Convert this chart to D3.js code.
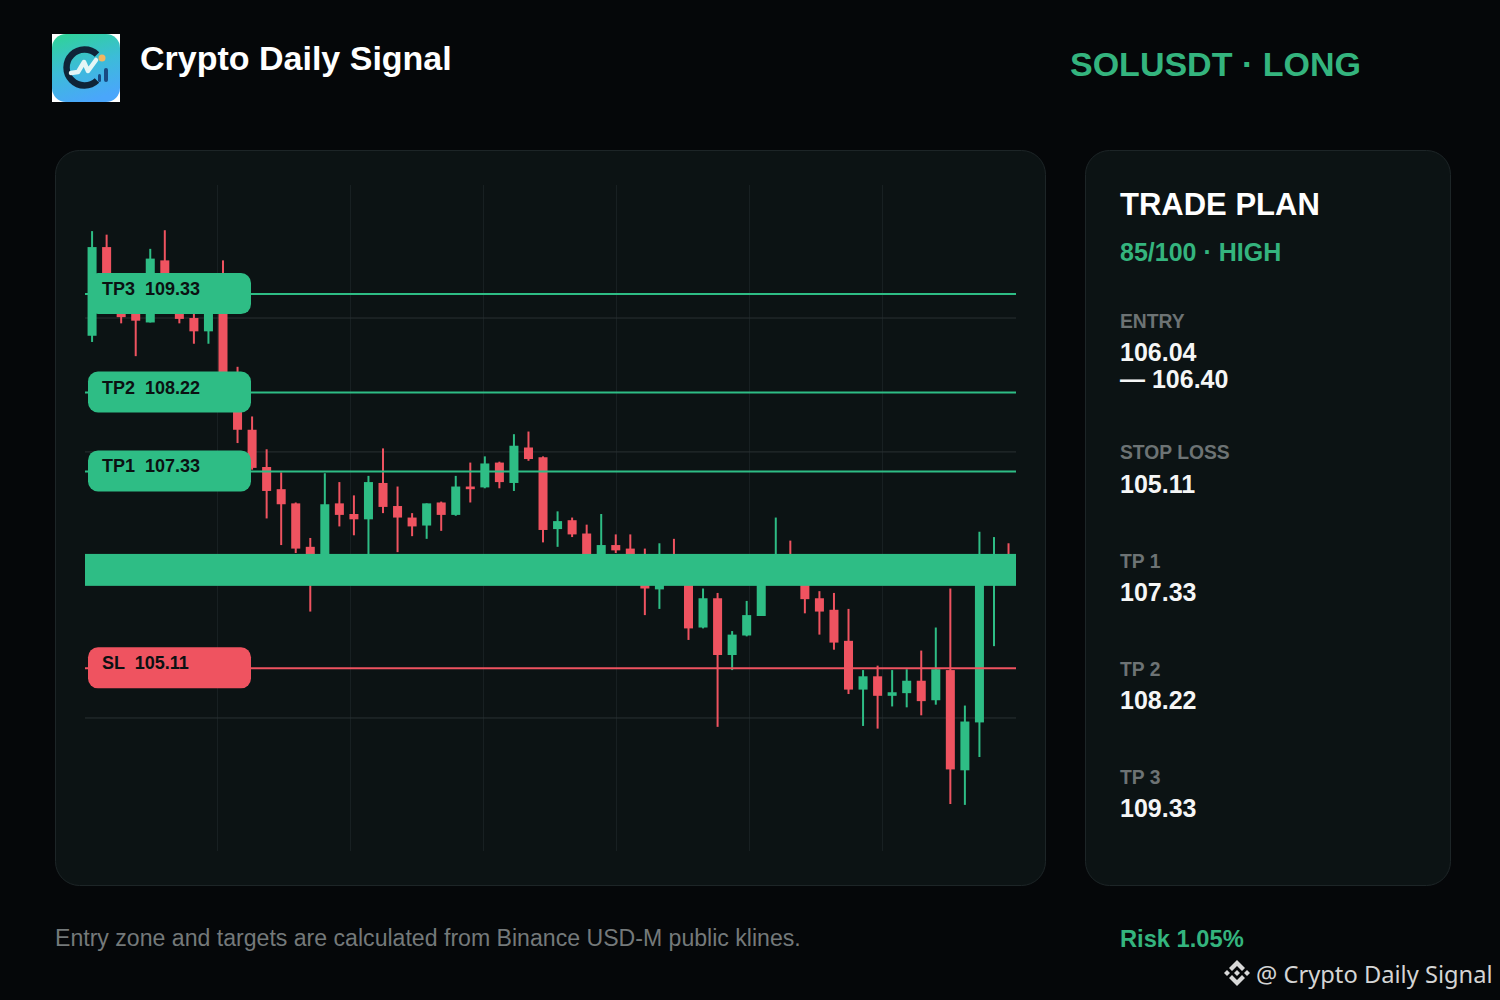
<!DOCTYPE html>
<html>
<head>
<meta charset="utf-8">
<title>Crypto Daily Signal</title>
<style>
html, body { margin: 0; padding: 0; background: #050709; }
svg { display: block; }
text { font-family: "Liberation Sans", Arial, sans-serif; }
</style>
</head>
<body>
<div id="chart"></div>
<script src="https://d3js.org/d3.v7.min.js"></script>
<script>
var opens = [108.86,109.86,109.27,109.13,109.01,109.71,109.27,109.06,108.91,109.32,108.19,107.80,107.38,107.13,106.97,106.48,
    106.27,106.97,106.85,106.79,107.20,106.94,106.81,106.72,106.98,106.84,107.16,107.15,107.43,107.20,107.60,107.49,
    106.68,106.78,106.63,106.33,106.50,106.46,106.36,106.00,106.22,106.10,105.57,105.90,105.26,105.48,105.70,106.15,
    106.30,106.15,105.90,105.77,105.42,104.87,105.02,104.80,104.83,104.97,104.75,105.09,103.96,104.50,106.10,106.35];
var highs = [110.04,110.00,109.33,109.30,109.84,110.05,109.33,109.13,109.32,109.71,108.51,107.95,107.58,107.32,106.98,106.58,
    107.31,107.21,107.06,107.28,107.59,107.16,106.86,106.97,106.99,107.28,107.43,107.50,107.44,107.75,107.78,107.50,
    106.88,106.81,106.73,106.85,106.62,106.62,106.46,106.52,106.57,106.15,106.01,105.96,105.53,105.87,106.30,106.81,
    106.55,106.25,105.98,105.96,105.78,105.09,105.14,105.09,105.10,105.31,105.57,106.01,104.69,106.65,106.59,106.52];
var lows = [108.79,109.21,109.00,108.63,109.01,109.27,109.00,108.77,108.77,108.14,107.65,107.35,106.80,106.50,106.41,105.75,
    106.20,106.71,106.61,106.35,106.86,106.42,106.60,106.57,106.66,106.83,106.98,107.14,107.14,107.11,107.45,106.53,
    106.48,106.59,106.30,106.30,106.41,106.30,105.71,105.78,106.05,105.43,105.56,104.45,105.09,105.47,105.70,106.10,
    106.10,105.73,105.49,105.32,104.82,104.46,104.43,104.68,104.67,104.58,104.70,103.58,103.57,104.11,105.36,106.15];
var closes = [109.86,109.38,109.07,109.03,109.73,109.38,109.05,108.91,109.27,108.22,107.80,107.37,107.11,106.96,106.46,106.33,
    106.96,106.84,106.79,107.21,106.93,106.81,106.71,106.97,106.84,107.16,107.13,107.42,107.21,107.62,107.47,106.67,
    106.77,106.62,106.35,106.50,106.44,106.36,106.01,106.22,106.10,105.56,105.90,105.26,105.49,105.71,106.20,106.30,
    106.15,105.89,105.75,105.40,104.87,105.02,104.80,104.84,104.97,104.74,105.10,103.97,104.51,106.27,106.25,106.20];

var entryZone = [106.04, 106.40];
var levelNames = ["TP3", "TP2", "TP1", "SL"];
var levelPrices = [109.33, 108.22, 107.33, 105.11];
var levelKinds = ["up", "up", "up", "down"];
var gridPrices = [109.06, 107.55, 106.05, 104.55];
var gridColumns = [1, 2, 3, 4, 5, 6];

var planLabels = ["ENTRY", "STOP LOSS", "TP 1", "TP 2", "TP 3"];
var planValues = [["106.04", "\u2014 106.40"], ["105.11"], ["107.33"], ["108.22"], ["109.33"]];
var planLabelY = [328, 459, 567.5, 675.5, 783.5];
var planValueY = [361, 493, 601, 709, 817];

var GREEN = "#2ebd85", RED = "#ef5360", GREENTXT = "#34b47e";
var plot = { left: 85, right: 1016, top: 185, bottom: 851 };

var svg = d3.select("#chart").append("svg")
    .attr("width", 1500)
    .attr("height", 1000);

svg.append("rect").attr("width", 1500).attr("height", 1000).attr("fill", "#050709");

// panels
function panel(x, w) {
    svg.append("rect")
        .attr("x", x + 0.5).attr("y", 150.5)
        .attr("width", w).attr("height", 735)
        .attr("rx", 24)
        .attr("fill", "#0c1314")
        .attr("stroke", "#1d2527")
        .attr("stroke-width", 1);
}
panel(55, 990);
panel(1085, 365);

// scales
var xscale = d3.scaleBand()
    .domain(d3.range(opens.length))
    .range([plot.left, plot.right]);
var yscale = d3.scaleLinear()
    .domain([103.05, 110.56])
    .range([plot.bottom, plot.top]);
var xcol = d3.scaleLinear()
    .domain([0, 7])
    .range([plot.left, plot.right]);

// grid
var ggrid = svg.append("g").attr("class", "grid");
ggrid.selectAll("line.v").data(gridColumns).enter().append("line")
    .attr("class", "v")
    .attr("x1", function(d) { return xcol(d) - 0.5; })
    .attr("x2", function(d) { return xcol(d) - 0.5; })
    .attr("y1", plot.top).attr("y2", plot.bottom)
    .attr("stroke", "#182022").attr("stroke-width", 1);
ggrid.selectAll("line.h").data(gridPrices).enter().append("line")
    .attr("class", "h")
    .attr("x1", plot.left).attr("x2", plot.right)
    .attr("y1", function(d) { return yscale(d); })
    .attr("y2", function(d) { return yscale(d); })
    .attr("stroke", "#2a3133").attr("stroke-width", 1);

// candles
var gc = svg.append("g").attr("class", "candles");
var bw = xscale.bandwidth();
d3.range(opens.length).forEach(function(i) {
    var up = closes[i] >= opens[i];
    var col = up ? GREEN : RED;
    var cx = xscale(i) + bw / 2 - 0.2;
    gc.append("line")
        .attr("x1", cx).attr("x2", cx)
        .attr("y1", yscale(highs[i])).attr("y2", yscale(lows[i]))
        .attr("stroke", col).attr("stroke-width", 2);
    gc.append("rect")
        .attr("x", cx - bw * 0.31)
        .attr("width", bw * 0.62)
        .attr("y", yscale(Math.max(opens[i], closes[i])))
        .attr("height", Math.max(1, Math.abs(yscale(opens[i]) - yscale(closes[i]))))
        .attr("fill", col);
});

// entry band
svg.append("rect")
    .attr("x", plot.left).attr("width", plot.right - plot.left)
    .attr("y", yscale(entryZone[1]))
    .attr("height", yscale(entryZone[0]) - yscale(entryZone[1]))
    .attr("fill", GREEN);

// levels with their tags
var glev = svg.append("g").attr("class", "levels");
levelPrices.forEach(function(p, i) {
    var y = yscale(p);
    var col = levelKinds[i] == "up" ? GREEN : RED;
    glev.append("line")
        .attr("x1", plot.left).attr("x2", plot.right)
        .attr("y1", y).attr("y2", y)
        .attr("stroke", col).attr("stroke-width", 2);
    glev.append("rect")
        .attr("x", 88).attr("y", y - 21)
        .attr("width", 163).attr("height", 41)
        .attr("rx", 10)
        .attr("fill", col);
    glev.append("text")
        .attr("x", 102).attr("y", y + 1)
        .attr("font-size", 18).attr("font-weight", "bold")
        .attr("fill", "#0b1112")
        .style("white-space", "pre")
        .text(levelNames[i] + "  " + p.toFixed(2));
});

// header
var logo = svg.append("g").attr("class", "logo");
var defs = svg.append("defs");
var grad = defs.append("linearGradient").attr("id", "logoGrad")
    .attr("x1", 0.2).attr("y1", 0).attr("x2", 0.5).attr("y2", 1);
grad.append("stop").attr("offset", "0%").attr("stop-color", "#30d29a");
grad.append("stop").attr("offset", "50%").attr("stop-color", "#3cbcd8");
grad.append("stop").attr("offset", "100%").attr("stop-color", "#4aa6fb");
logo.append("rect").attr("x", 52).attr("y", 34).attr("width", 68).attr("height", 68).attr("fill", "#ffffff");
logo.append("rect").attr("x", 52).attr("y", 34).attr("width", 68).attr("height", 68).attr("rx", 14).attr("fill", "url(#logoGrad)");
logo.append("path")
    .attr("d", "M97 54.5 A18 18 0 1 0 97 80.5")
    .attr("fill", "none").attr("stroke", "#0f2438").attr("stroke-width", 6.5);
logo.append("path").attr("d", "M71 73 L78 72 L84 62 L88 71 L96 60")
    .attr("fill", "none").attr("stroke", "#e4f6f6").attr("stroke-width", 4.5).attr("stroke-linejoin", "round").attr("stroke-linecap", "round");
logo.append("circle").attr("cx", 102).attr("cy", 58).attr("r", 3.5).attr("fill", "#f2b661");
logo.append("rect").attr("x", 104).attr("y", 68).attr("width", 4).attr("height", 14).attr("rx", 2).attr("fill", "#184a82");
logo.append("rect").attr("x", 98).attr("y", 74).attr("width", 3).attr("height", 8).attr("rx", 1.5).attr("fill", "#184a82");

svg.append("text").attr("x", 140).attr("y", 70)
    .attr("font-size", 34).attr("font-weight", "bold").attr("fill", "#ffffff")
    .text("Crypto Daily Signal");
svg.append("text").attr("x", 1070).attr("y", 76)
    .attr("font-size", 34).attr("font-weight", "bold").attr("fill", GREENTXT)
    .text("SOLUSDT \u00b7 LONG");

// trade plan
svg.append("text").attr("x", 1120).attr("y", 215)
    .attr("font-size", 31).attr("font-weight", "bold").attr("fill", "#ffffff")
    .text("TRADE PLAN");
svg.append("text").attr("x", 1120).attr("y", 261)
    .attr("font-size", 25).attr("font-weight", "bold").attr("fill", GREENTXT)
    .text("85/100 \u00b7 HIGH");
planLabels.forEach(function(lbl, i) {
    svg.append("text").attr("x", 1120).attr("y", planLabelY[i])
        .attr("font-size", 19.3).attr("font-weight", "bold").attr("fill", "#6d7374")
        .text(lbl);
    planValues[i].forEach(function(v, j) {
        svg.append("text").attr("x", 1120).attr("y", planValueY[i] + j * 27)
            .attr("font-size", 25).attr("font-weight", "bold").attr("fill", "#f5f6f6")
            .text(v);
    });
});

// footer
svg.append("text").attr("x", 55).attr("y", 946)
    .attr("font-size", 23.1).attr("fill", "#74797a")
    .text("Entry zone and targets are calculated from Binance USD-M public klines.");
svg.append("text").attr("x", 1120).attr("y", 947)
    .attr("font-size", 23.7).attr("font-weight", "bold").attr("fill", GREENTXT)
    .text("Risk 1.05%");

// watermark
var wm = svg.append("g").attr("transform", "translate(1237,973)").attr("fill", "#d8d8d8");
wm.append("path").attr("d", "M0 -13 L8 -5 L5 -2 L0 -7 L-5 -2 L-8 -5 Z");
wm.append("path").attr("d", "M0 13 L8 5 L5 2 L0 7 L-5 2 L-8 5 Z");
wm.append("path").attr("d", "M0 -3 L3 0 L0 3 L-3 0 Z");
wm.append("path").attr("d", "M-10 -3 L-13 0 L-10 3 L-7 0 Z");
wm.append("path").attr("d", "M10 -3 L13 0 L10 3 L7 0 Z");
svg.append("text").attr("x", 1256).attr("y", 983)
    .style("font-family", "'Noto Sans', sans-serif")
    .attr("font-size", 23.7).attr("fill", "#d4d4d4")
    .text("@ Crypto Daily Signal");
</script>
</body>
</html>
